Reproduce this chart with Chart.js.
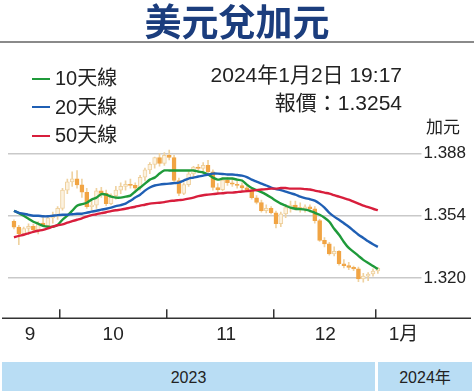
<!DOCTYPE html>
<html><head><meta charset="utf-8">
<script src="https://cdn.jsdelivr.net/npm/chart.js@4.4.1/dist/chart.umd.min.js"></script>
<style>
html,body{margin:0;padding:0;background:#fff;}
#wrap{position:relative;width:474px;height:392px;overflow:hidden;font-family:"Liberation Sans",Arial,"Noto Sans CJK TC",sans-serif;color:#222;}
#c{position:absolute;left:0;top:0;}
.abs{position:absolute;white-space:nowrap;pointer-events:none;}
#title{left:0;width:474px;top:-2px;text-align:center;font-family:"Noto Sans CJK TC",sans-serif;font-weight:700;font-size:37px;line-height:44px;color:#1b3d7d;}
#rule{left:0;top:41px;width:474px;height:2px;background:#8a8a8a;}
#legend{left:32px;top:66px;}
.lg{height:28.5px;line-height:24px;font-size:20px;}
.lg i{display:inline-block;width:18px;height:2px;vertical-align:middle;margin-right:5px;position:relative;top:-1px;}
.info{right:72px;text-align:right;font-size:21px;line-height:24px;}
#unit{left:426px;top:116px;font-size:17px;line-height:24px;}
.band{top:362px;height:29px;background:#b9ddf4;text-align:center;font-size:16px;line-height:31px;color:#222;}
</style></head>
<body><div id="wrap">
<canvas id="c" width="474" height="392"></canvas>
<div id="title" class="abs">美元兌加元</div>
<div id="rule" class="abs"></div>
<div id="legend" class="abs"></div>
<div class="abs info" style="top:63px">2024年1月2日 19:17</div>
<div class="abs info" style="top:91px">報價：1.3254</div>
<div id="unit" class="abs">加元</div>
<div id="bands"></div>
</div>
<script>
// ---- data ----
const DATES = ['9/18','9/19','9/20','9/21','9/22','9/25','9/26','9/27','9/28','9/29',
 '10/2','10/3','10/4','10/5','10/6','10/9','10/10','10/11','10/12','10/13','10/16','10/17','10/18','10/19','10/20','10/23','10/24','10/25','10/26','10/27','10/30','10/31',
 '11/1','11/2','11/3','11/6','11/7','11/8','11/9','11/10','11/13','11/14','11/15','11/16','11/17','11/20','11/21','11/22','11/23','11/24','11/27','11/28','11/29','11/30',
 '12/1','12/4','12/5','12/6','12/7','12/8','12/11','12/12','12/13','12/14','12/15','12/18','12/19','12/20','12/21','12/22','12/25','12/26','12/27','12/28','12/29',
 '1/2'];
const OPEN = [1.3510,1.3478,1.3442,1.3470,1.3482,1.3462,1.3500,1.3486,1.3528,1.3540,
 1.3580,1.3680,1.3725,1.3742,1.3708,1.3668,1.3590,1.3598,1.3676,1.3662,1.3606,1.3650,1.3680,1.3700,1.3712,1.3706,1.3690,1.3750,1.3790,1.3820,1.3858,1.3825,
 1.3870,1.3858,1.3732,1.3662,1.3710,1.3768,1.3805,1.3798,1.3815,1.3780,1.3694,1.3682,1.3735,1.3720,1.3712,1.3705,1.3692,1.3680,1.3638,1.3612,1.3568,1.3580,
 1.3556,1.3496,1.3550,1.3585,1.3598,1.3584,1.3576,1.3588,1.3578,1.3513,1.3405,1.3386,1.3332,1.3345,1.3278,1.3268,1.3258,1.3250,1.3195,1.3210,1.3222,
 1.3238];
const HIGH = [1.3518,1.3488,1.3478,1.3496,1.3494,1.3508,1.3530,1.3540,1.3560,1.3590,
 1.3690,1.3740,1.3780,1.3786,1.3740,1.3690,1.3620,1.3690,1.3695,1.3680,1.3660,1.3700,1.3720,1.3730,1.3740,1.3720,1.3760,1.3800,1.3830,1.3860,1.3880,1.3885,
 1.3898,1.3870,1.3745,1.3720,1.3780,1.3810,1.3820,1.3830,1.3842,1.3790,1.3715,1.3745,1.3750,1.3745,1.3730,1.3720,1.3700,1.3690,1.3650,1.3625,1.3600,1.3590,
 1.3565,1.3560,1.3600,1.3620,1.3620,1.3610,1.3600,1.3600,1.3590,1.3520,1.3420,1.3395,1.3370,1.3350,1.3300,1.3285,1.3265,1.3260,1.3225,1.3230,1.3250,
 1.3258];
const LOW = [1.3468,1.3382,1.3432,1.3448,1.3450,1.3440,1.3480,1.3476,1.3500,1.3520,
 1.3570,1.3660,1.3700,1.3690,1.3640,1.3580,1.3570,1.3580,1.3640,1.3595,1.3600,1.3630,1.3660,1.3680,1.3690,1.3680,1.3680,1.3730,1.3770,1.3800,1.3810,1.3815,
 1.3845,1.3720,1.3650,1.3655,1.3700,1.3750,1.3775,1.3785,1.3775,1.3680,1.3670,1.3675,1.3705,1.3700,1.3690,1.3680,1.3670,1.3630,1.3605,1.3560,1.3555,1.3550,
 1.3474,1.3480,1.3530,1.3560,1.3570,1.3560,1.3560,1.3560,1.3500,1.3400,1.3370,1.3325,1.3320,1.3270,1.3255,1.3245,1.3240,1.3180,1.3177,1.3185,1.3210,
 1.3225];
const CLOSE = [1.3478,1.3442,1.3470,1.3482,1.3462,1.3500,1.3486,1.3528,1.3540,1.3580,
 1.3680,1.3725,1.3742,1.3708,1.3668,1.3590,1.3598,1.3676,1.3662,1.3606,1.3650,1.3680,1.3700,1.3712,1.3706,1.3690,1.3750,1.3790,1.3820,1.3858,1.3825,1.3870,
 1.3858,1.3732,1.3662,1.3710,1.3768,1.3805,1.3798,1.3815,1.3780,1.3694,1.3682,1.3735,1.3720,1.3712,1.3705,1.3692,1.3680,1.3638,1.3612,1.3568,1.3580,1.3556,
 1.3496,1.3550,1.3585,1.3598,1.3584,1.3576,1.3588,1.3578,1.3513,1.3405,1.3386,1.3332,1.3345,1.3278,1.3268,1.3258,1.3250,1.3195,1.3210,1.3222,1.3238,
 1.3254];
const MA10 = [1.3567,1.3554,1.3540,1.3524,1.3507,1.3496,1.3485,1.3480,1.3480,1.3490,
 1.3518,1.3540,1.3567,1.3595,1.3603,1.3611,1.3628,1.3639,1.3658,1.3655,1.3644,1.3639,1.3639,1.3644,1.3650,1.3672,1.3694,1.3715,1.3737,1.3748,1.3770,1.3787,
 1.3787,1.3787,1.3787,1.3787,1.3787,1.3787,1.3781,1.3776,1.3765,1.3748,1.3737,1.3743,1.3743,1.3743,1.3737,1.3732,1.3710,1.3691,1.3680,1.3669,1.3655,1.3639,
 1.3622,1.3606,1.3595,1.3584,1.3578,1.3576,1.3573,1.3567,1.3556,1.3545,1.3529,1.3507,1.3469,1.3436,1.3397,1.3364,1.3343,1.3321,1.3299,1.3282,1.3266,
 1.3249];
const MA20 = [1.3567,1.3556,1.3551,1.3545,1.3540,1.3540,1.3537,1.3537,1.3540,1.3543,
 1.3545,1.3545,1.3548,1.3551,1.3551,1.3556,1.3562,1.3567,1.3573,1.3578,1.3584,1.3592,1.3598,1.3606,1.3622,1.3639,1.3655,1.3677,1.3694,1.3705,1.3710,1.3713,
 1.3715,1.3718,1.3721,1.3732,1.3743,1.3748,1.3754,1.3759,1.3765,1.3770,1.3770,1.3768,1.3765,1.3765,1.3762,1.3759,1.3751,1.3737,1.3726,1.3715,1.3705,1.3694,
 1.3685,1.3680,1.3672,1.3663,1.3655,1.3644,1.3636,1.3630,1.3622,1.3606,1.3584,1.3556,1.3535,1.3518,1.3499,1.3480,1.3458,1.3436,1.3419,1.3400,1.3384,
 1.3370];
const MA50 = [1.3422,1.3430,1.3436,1.3444,1.3452,1.3458,1.3463,1.3471,1.3480,1.3488,
 1.3493,1.3502,1.3510,1.3518,1.3526,1.3535,1.3543,1.3548,1.3554,1.3559,1.3565,1.3570,1.3573,1.3578,1.3584,1.3589,1.3595,1.3600,1.3606,1.3609,1.3611,1.3614,
 1.3620,1.3622,1.3625,1.3628,1.3633,1.3639,1.3647,1.3652,1.3655,1.3658,1.3661,1.3663,1.3666,1.3666,1.3669,1.3672,1.3674,1.3677,1.3680,1.3683,1.3685,1.3688,
 1.3688,1.3691,1.3691,1.3688,1.3688,1.3688,1.3685,1.3683,1.3677,1.3672,1.3666,1.3661,1.3652,1.3644,1.3636,1.3628,1.3617,1.3606,1.3595,1.3587,1.3578,
 1.3570];
const SERIES_NAMES = ['10天線','20天線','50天線'];
const SERIES_COLORS = ['#1f9a3a','#1f5fb4','#d81e3c'];
const Y_TICKS = [1.320, 1.354, 1.388];
const Y_TICK_LABELS = ['1.320','1.354','1.388'];
const MONTH_BOUNDS = [9.5, 31.5, 53.5, 74.5];
const MONTH_LABELS = ['9','10','11','12','1月'];
const MONTH_LABEL_POS = [3.31, 20.44, 43.75, 64.18, 80.28];
const YEARS = ['2023','2024年'];

// ---- chart ----
const UP_FILL = '#fcf2e0', UP_LINE = '#efd19e', DOWN_FILL = '#f1a443', WICK = '#efd2a0';
const idx = DATES.map((d,i)=>i);
const isUp = i => CLOSE[i] >= OPEN[i];

const axisLine = {
  id:'axisLine',
  afterDraw(chart){
    const {ctx} = chart; const y = chart.scales.x.top;
    ctx.save(); ctx.strokeStyle='#333'; ctx.lineWidth=1.5;
    ctx.beginPath(); ctx.moveTo(2,y); ctx.lineTo(chart.width-3,y); ctx.stroke(); ctx.restore();
  }
};

const lineDs = (name, arr, color) => ({
  type:'line', label:name, data: idx.map(i=>({x:i,y:arr[i]})),
  borderColor:color, backgroundColor:color, borderWidth:2.4, pointRadius:0, tension:0.25, order:0
});

const chart = new Chart(document.getElementById('c'), {
  data:{
    datasets:[
      {type:'bar', label:'wick', data: idx.map(i=>({x:i,y:[LOW[i],HIGH[i]]})),
       backgroundColor:WICK, barThickness:1, grouped:false, order:3},
      {type:'bar', label:'body', data: idx.map(i=>({x:i,y:[OPEN[i],CLOSE[i]]})),
       backgroundColor: idx.map(i=>isUp(i)?UP_FILL:DOWN_FILL),
       borderColor: idx.map(i=>isUp(i)?UP_LINE:DOWN_FILL),
       borderWidth:1, borderSkipped:false, barThickness:4, minBarLength:1, grouped:false, order:2},
      lineDs(SERIES_NAMES[2], MA50, SERIES_COLORS[2]),
      lineDs(SERIES_NAMES[1], MA20, SERIES_COLORS[1]),
      lineDs(SERIES_NAMES[0], MA10, SERIES_COLORS[0])
    ]
  },
  options:{
    responsive:false, animation:false, devicePixelRatio:1,
    layout:{padding:{left:8,right:6,top:60,bottom:32}},
    plugins:{legend:{display:false}, tooltip:{enabled:false}},
    scales:{
      x:{type:'linear', min:-1.23, max:81.72, offset:false,
        afterBuildTicks: s => {
          s.ticks = MONTH_BOUNDS.concat(MONTH_LABEL_POS).sort((a,b)=>a-b).map(v=>({value:v}));
        },
        ticks:{autoSkip:false, maxRotation:0, padding:14, color:'#222',
          font:{family:'"Liberation Sans", Arial, "Noto Sans CJK TC"', size:19},
          callback: v => { const k = MONTH_LABEL_POS.indexOf(v); return k>=0 ? MONTH_LABELS[k] : ''; }},
        grid:{offset:false, drawOnChartArea:false, drawTicks:true, tickLength:-9, lineWidth:1.5,
          color: c => (c.tick && MONTH_BOUNDS.includes(c.tick.value)) ? '#333' : 'rgba(0,0,0,0)'},
        border:{display:false}
      },
      y:{position:'right', min:1.29806, max:1.4390,
        afterBuildTicks: s => { s.ticks = Y_TICKS.map(v=>({value:v})); },
        ticks:{padding:2, color:'#222',
          font:{family:'"Liberation Sans", Arial', size:17},
          callback: (v,i) => Y_TICK_LABELS[i]},
        grid:{color:'#c9c9c9', lineWidth:1.5, drawTicks:true, tickLength:11},
        border:{display:false}
      }
    }
  },
  plugins:[axisLine]
});

// legend (html) from line datasets
const lg = document.getElementById('legend');
SERIES_NAMES.forEach((n,k)=>{
  const row = document.createElement('div'); row.className='lg';
  row.innerHTML = '<i style="background:'+SERIES_COLORS[k]+'"></i>'+n;
  lg.appendChild(row);
});
// year band
const bands = document.getElementById('bands');
[[2,373],[378,94]].forEach((b,k)=>{
  const d = document.createElement('div'); d.className='abs band';
  d.style.left=b[0]+'px'; d.style.width=b[1]+'px'; d.textContent=YEARS[k];
  bands.appendChild(d);
});
</script>
</body></html>
